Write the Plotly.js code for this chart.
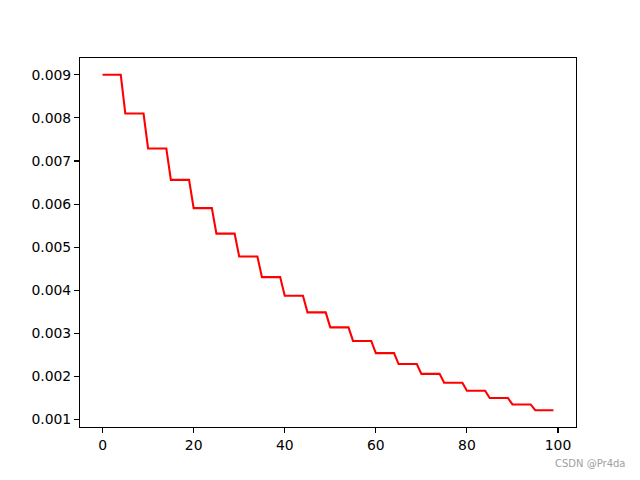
<!DOCTYPE html>
<html><head><meta charset="utf-8">
<script src="https://cdn.plot.ly/plotly-3.0.1.min.js"></script>
<style>html,body{margin:0;padding:0;background:#fff}#chart{width:640px;height:480px}</style>
</head><body><div id="chart"></div>
<script>
const epochs = [
  0,1,2,3,4,5,6,7,8,9,10,11,12,13,14,15,16,17,18,19,
  20,21,22,23,24,25,26,27,28,29,30,31,32,33,34,35,36,37,38,39,
  40,41,42,43,44,45,46,47,48,49,50,51,52,53,54,55,56,57,58,59,
  60,61,62,63,64,65,66,67,68,69,70,71,72,73,74,75,76,77,78,79,
  80,81,82,83,84,85,86,87,88,89,90,91,92,93,94,95,96,97,98,99
];
const lr = [
  0.009,0.009,0.009,0.009,0.009,
  0.0081,0.0081,0.0081,0.0081,0.0081,
  0.00729,0.00729,0.00729,0.00729,0.00729,
  0.006561,0.006561,0.006561,0.006561,0.006561,
  0.005905,0.005905,0.005905,0.005905,0.005905,
  0.005314,0.005314,0.005314,0.005314,0.005314,
  0.004783,0.004783,0.004783,0.004783,0.004783,
  0.004305,0.004305,0.004305,0.004305,0.004305,
  0.003874,0.003874,0.003874,0.003874,0.003874,
  0.003487,0.003487,0.003487,0.003487,0.003487,
  0.003138,0.003138,0.003138,0.003138,0.003138,
  0.002824,0.002824,0.002824,0.002824,0.002824,
  0.002542,0.002542,0.002542,0.002542,0.002542,
  0.002288,0.002288,0.002288,0.002288,0.002288,
  0.002059,0.002059,0.002059,0.002059,0.002059,
  0.001853,0.001853,0.001853,0.001853,0.001853,
  0.001668,0.001668,0.001668,0.001668,0.001668,
  0.001501,0.001501,0.001501,0.001501,0.001501,
  0.001351,0.001351,0.001351,0.001351,0.001351,
  0.001216,0.001216,0.001216,0.001216,0.001216
];
const xTicks = [0,20,40,60,80,100];
const yTicks = [0.001,0.002,0.003,0.004,0.005,0.006,0.007,0.008,0.009];
const watermark = "CSDN @Pr4da";

const font = {family:"DejaVu Sans", size:13.9, color:"#000"};
const trace = {x:epochs, y:lr, type:"scatter", mode:"lines",
  line:{color:"red", width:2.08}, hoverinfo:"skip"};
const ax = {showgrid:false, zeroline:false, showline:true, linecolor:"#000", linewidth:1.1,
  mirror:true, ticks:"outside", ticklen:4.9, tickwidth:1.1, tickcolor:"#000", tickfont:font};
const layout = {
  width:640, height:480, paper_bgcolor:"#fff", plot_bgcolor:"#fff",
  margin:{l:80, r:64, t:57.6, b:52.8}, showlegend:false, font:font,
  xaxis:Object.assign({}, ax, {range:[-4.95,103.95], tickvals:xTicks, ticktext:xTicks.map(String)}),
  yaxis:Object.assign({}, ax, {range:[0.000827,0.009389], tickvals:yTicks, ticktext:yTicks.map(v=>v.toFixed(3))}),
  annotations:[{text:watermark, xref:"paper", yref:"paper", x:1.104, y:-0.098, xanchor:"right", yanchor:"middle",
    showarrow:false, font:{family:"DejaVu Sans", size:10, color:"#a0a0a0"}}]
};
Plotly.newPlot("chart",[trace],layout,{staticPlot:true, displayModeBar:false});
</script></body></html>
